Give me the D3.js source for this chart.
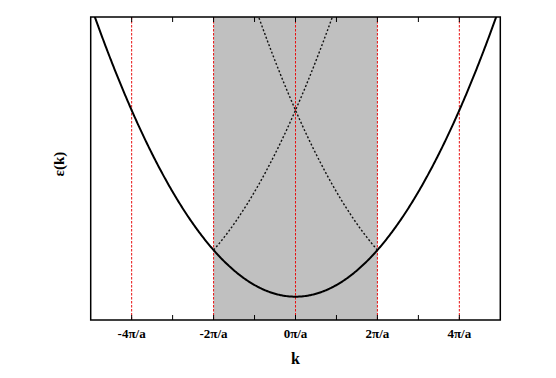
<!DOCTYPE html>
<html>
<head>
<meta charset="utf-8">
<script src="https://cdn.jsdelivr.net/npm/d3@7/dist/d3.min.js"></script>
<style>
body{margin:0;background:#fff;}
svg{display:block;}
</style>
</head>
<body>
<svg id="chart" width="556" height="378"></svg>
<script>
// data (k in units of pi/a, energy in units of (pi/a)^2)
const xDomain = [-5, 5];
const yDomain = [-2, 24];
const majorTicks = [-4, -2, 0, 2, 4];
const minorTicks = [-3, -1, 1, 3];
const tickLabels = ["-4\u03c0/a", "-2\u03c0/a", "0\u03c0/a", "2\u03c0/a", "4\u03c0/a"];
const zoneEdges = [-2, 2];
const reciprocalShifts = [-4, 4];
const kSamples = d3.range(-5, 5.0001, 0.02);

const svg = d3.select("#chart");
const L = 90.7, R = 500.3, T = 17, B = 320;
const x = d3.scaleLinear().domain(xDomain).range([L, R]);
const y = d3.scaleLinear().domain(yDomain).range([B, T]);

svg.append("defs").append("clipPath").attr("id", "clip")
  .append("rect").attr("x", L).attr("y", T).attr("width", R - L).attr("height", B - T);

// shaded first Brillouin zone
svg.append("rect")
  .attr("x", x(zoneEdges[0])).attr("y", T)
  .attr("width", x(zoneEdges[1]) - x(zoneEdges[0])).attr("height", B - T)
  .attr("fill", "#c0c0c0");

// vertical dashed lines
svg.selectAll(".vl").data(majorTicks).enter().append("line")
  .attr("x1", d => x(d)).attr("x2", d => x(d))
  .attr("y1", T).attr("y2", B)
  .attr("stroke", "#e81010").attr("stroke-width", 1)
  .attr("stroke-dasharray", "2.5,1.5");

const line = d3.line().x(d => x(d[0])).y(d => y(d[1]));
const g = svg.append("g").attr("clip-path", "url(#clip)");

// folded (dotted) bands inside first zone
reciprocalShifts.forEach(s => {
  const pts = kSamples.filter(k => k >= zoneEdges[0] && k <= zoneEdges[1])
    .map(k => [k, (k + s) * (k + s)]);
  g.append("path").attr("d", line(pts))
    .attr("fill", "none").attr("stroke", "#111").attr("stroke-width", 1.4)
    .attr("stroke-dasharray", "2,2");
});

// free-electron parabola
g.append("path").attr("d", line(kSamples.map(k => [k, k * k])))
  .attr("fill", "none").attr("stroke", "#000").attr("stroke-width", 2);

// frame
svg.append("rect").attr("x", L).attr("y", T).attr("width", R - L).attr("height", B - T)
  .attr("fill", "none").attr("stroke", "#000").attr("stroke-width", 1.5);

// inward ticks on bottom and top
const allTicks = majorTicks.concat(minorTicks);
svg.selectAll(".tb").data(allTicks).enter().append("line")
  .attr("x1", d => x(d)).attr("x2", d => x(d))
  .attr("y1", B).attr("y2", B - 5).attr("stroke", "#000").attr("stroke-width", 1);
svg.selectAll(".tt").data(allTicks).enter().append("line")
  .attr("x1", d => x(d)).attr("x2", d => x(d))
  .attr("y1", T).attr("y2", T + 5).attr("stroke", "#000").attr("stroke-width", 1);

// tick labels
svg.selectAll(".tl").data(majorTicks).enter().append("text")
  .attr("x", d => x(d)).attr("y", 338)
  .attr("text-anchor", "middle")
  .attr("font-family", "Liberation Serif, Times New Roman, serif")
  .attr("font-weight", "bold").attr("font-size", 13)
  .text((d, i) => tickLabels[i]);

// axis titles
svg.append("text").attr("x", x(0)).attr("y", 364)
  .attr("text-anchor", "middle")
  .attr("font-family", "Liberation Serif, Times New Roman, serif")
  .attr("font-weight", "bold").attr("font-size", 16).text("k");

svg.append("text")
  .attr("transform", "translate(64,164) rotate(-90)")
  .attr("text-anchor", "middle")
  .attr("font-family", "Liberation Serif, Times New Roman, serif")
  .attr("font-weight", "bold").attr("font-size", 15).text("\u03b5(k)");
</script>
</body>
</html>
